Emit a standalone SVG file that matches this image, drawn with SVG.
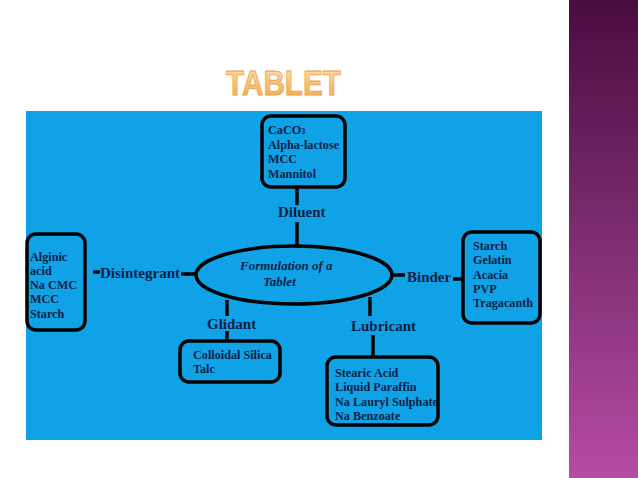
<svg xmlns="http://www.w3.org/2000/svg" width="638" height="478" viewBox="0 0 638 478">
<defs>
<linearGradient id="side" x1="0" y1="0" x2="0" y2="1">
<stop offset="0" stop-color="#4a0c3f"/>
<stop offset="0.5" stop-color="#7e2d72"/>
<stop offset="1" stop-color="#b54ba4"/>
</linearGradient>
<linearGradient id="title" x1="0" y1="0" x2="0" y2="1">
<stop offset="0" stop-color="#fde7c4"/>
<stop offset="0.5" stop-color="#f8c27a"/>
<stop offset="1" stop-color="#f2a94e"/>
</linearGradient>
<style>
.box{fill:none;stroke:#000;stroke-width:3.5}
.ln{stroke:#000;stroke-width:3.5;fill:none}
.t{font-family:"Liberation Serif",serif;font-weight:bold;font-size:12.2px;fill:#0d1f45}
.lab{font-family:"Liberation Serif",serif;font-weight:bold;font-size:15px;fill:#0d1f45}
.it{font-family:"Liberation Serif",serif;font-weight:bold;font-style:italic;font-size:13px;fill:#0d1f45}
</style>
</defs>
<rect x="0" y="0" width="638" height="478" fill="#fff"/>
<rect x="569" y="0" width="69" height="478" fill="url(#side)"/>
<text x="226" y="95" font-family="Liberation Sans,sans-serif" font-weight="bold" font-size="35" fill="url(#title)" stroke="#e9a24c" stroke-width="0.8" textLength="115" lengthAdjust="spacingAndGlyphs">TABLET</text>
<rect x="26" y="111" width="516" height="329" fill="#10a2e6"/>
<g id="connectors">
<line class="ln" x1="297" y1="187" x2="297" y2="205"/>
<line class="ln" x1="297" y1="222" x2="297" y2="246"/>
<line class="ln" x1="93" y1="272" x2="100" y2="272"/>
<line class="ln" x1="181" y1="274" x2="196" y2="274"/>
<line class="ln" x1="392" y1="275" x2="405" y2="275"/>
<line class="ln" x1="453" y1="279" x2="464" y2="279"/>
<line class="ln" x1="227" y1="300" x2="227" y2="316"/>
<line class="ln" x1="227" y1="331" x2="227" y2="342"/>
<line class="ln" x1="370" y1="297" x2="370" y2="316"/>
<line class="ln" x1="373" y1="335" x2="373" y2="357"/>
</g>
<g id="center">
<ellipse class="box" cx="294" cy="275" rx="98" ry="29"/>
<text class="it" x="240" y="270">Formulation of a</text>
<text class="it" x="263" y="286">Tablet</text>
</g>
<g id="diluent">
<rect class="box" x="262" y="116" width="83" height="71" rx="9"/>
<text class="t" x="268" y="134">CaCO<tspan font-size="8">3</tspan></text>
<text class="t" x="268" y="149">Alpha-lactose</text>
<text class="t" x="268" y="163">MCC</text>
<text class="t" x="268" y="178">Mannitol</text>
<text class="lab" x="278" y="217" font-size="13.5">Diluent</text>
</g>
<g id="disintegrant">
<rect class="box" x="27" y="234" width="58" height="96" rx="9"/>
<text class="t" x="30" y="261">Alginic</text>
<text class="t" x="30" y="275">acid</text>
<text class="t" x="30" y="289">Na CMC</text>
<text class="t" x="30" y="303">MCC</text>
<text class="t" x="30" y="318">Starch</text>
<text class="lab" x="100" y="278">Disintegrant</text>
</g>
<g id="binder">
<rect class="box" x="463" y="232" width="77" height="91" rx="9"/>
<text class="t" x="473" y="250">Starch</text>
<text class="t" x="473" y="264">Gelatin</text>
<text class="t" x="473" y="279">Acacia</text>
<text class="t" x="473" y="293">PVP</text>
<text class="t" x="473" y="307">Tragacanth</text>
<text class="lab" x="407" y="282">Binder</text>
</g>
<g id="glidant">
<rect class="box" x="180" y="341" width="100" height="41" rx="9"/>
<text class="t" x="193" y="359">Colloidal Silica</text>
<text class="t" x="193" y="373">Talc</text>
<text class="lab" x="207" y="329">Glidant</text>
</g>
<g id="lubricant">
<rect class="box" x="327" y="357" width="111" height="68" rx="9"/>
<text class="t" x="335" y="377">Stearic Acid</text>
<text class="t" x="335" y="391">Liquid Paraffin</text>
<text class="t" x="335" y="406">Na Lauryl Sulphate</text>
<text class="t" x="335" y="420">Na Benzoate</text>
<text class="lab" x="351" y="331">Lubricant</text>
</g>
</svg>
